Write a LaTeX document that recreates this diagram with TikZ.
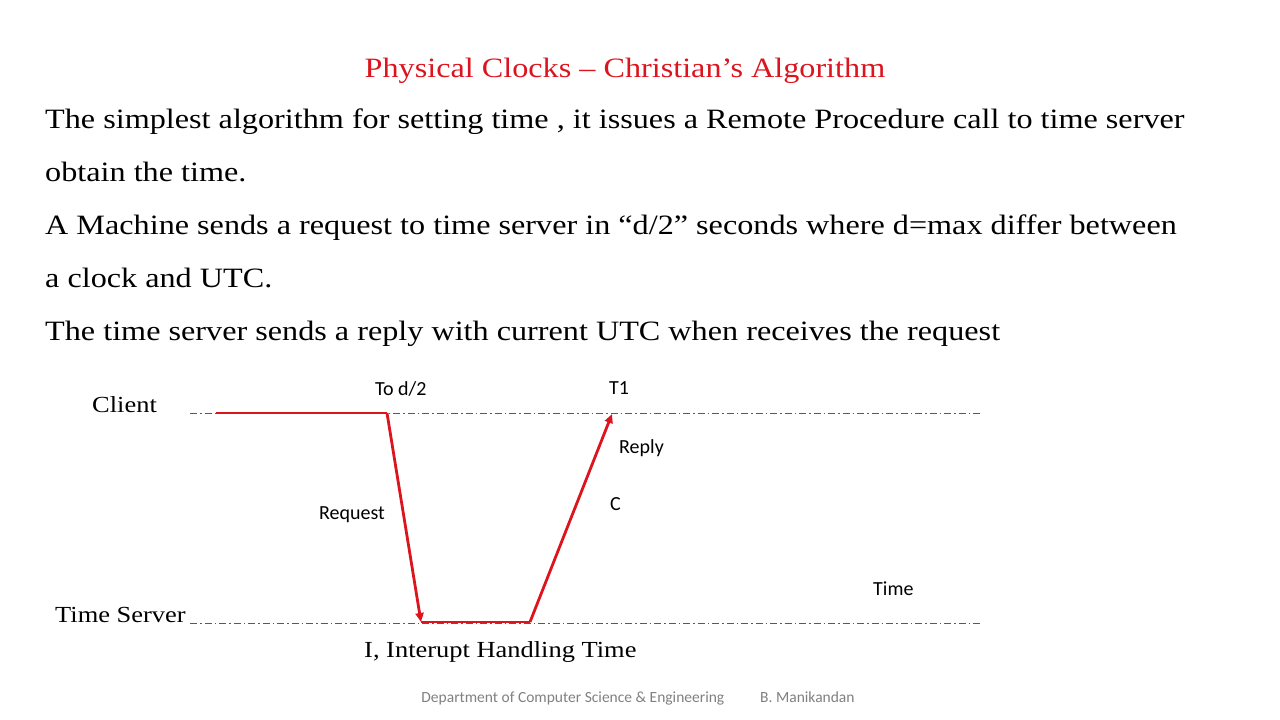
\documentclass[tikz,border=0pt]{standalone}
\usepackage{fontspec}
\setmainfont{Liberation Serif}
\newfontfamily\labelfont{Carlito}
\usetikzlibrary{arrows.meta}
\definecolor{slidered}{RGB}{220,20,30}
\newcommand{\widetext}[1]{\scalebox{1.15}[1]{#1}}
\begin{document}
\begin{tikzpicture}[x=1pt,y=-1pt,
  bodytext/.style={anchor=base west,inner sep=0pt,font=\fontsize{28}{30}\selectfont},
  sidetext/.style={anchor=base west,inner sep=0pt,font=\fontsize{23}{26}\selectfont},
  tag/.style={anchor=base west,inner sep=0pt,font=\labelfont\fontsize{20}{24}\selectfont},
  timeline/.style={gray!70!black,line width=0.7pt,dash pattern=on 7pt off 3pt on 1.5pt off 3pt},
  msg/.style={slidered,line width=2.8pt}]
  \useasboundingbox (0,0) rectangle (1280,720);
  \node[anchor=base,inner sep=0pt,text=slidered,font=\fontsize{28}{30}\selectfont] (title) at (625,77) {\widetext{Physical Clocks -- Christian's Algorithm}};
  \node[bodytext] (l1) at (45,128) {\widetext{The simplest algorithm for setting time , it issues a Remote Procedure call to time server}};
  \node[bodytext] (l2) at (45,181) {\widetext{obtain the time.}};
  \node[bodytext] (l3) at (45,234) {\widetext{A Machine sends a request to time server in ``d/2'' seconds where d=max differ between}};
  \node[bodytext] (l4) at (45,287) {\widetext{a clock and UTC.}};
  \node[bodytext] (l5) at (45,340) {\widetext{The time server sends a reply with current UTC when receives the request}};
  % time lines
  \coordinate (cs) at (190,413); \coordinate (ce) at (983,413);
  \coordinate (ss) at (190,623); \coordinate (se) at (983,623);
  \draw[timeline] (cs) -- (ce);
  \draw[timeline] (ss) -- (se);
  \node[sidetext] (client) at (92,412) {\widetext{Client}};
  \node[sidetext] (server) at (55,622) {\widetext{Time Server}};
  \node[sidetext] (handle) at (364,657) {\widetext{I, Interupt Handling Time}};
  % messages
  \coordinate (c0) at (216,413);
  \coordinate (t0) at (387,413);
  \coordinate (s0) at (421,622);
  \coordinate (s1) at (530,622);
  \coordinate (t1) at (612,414);
  \draw[msg] (c0) -- (t0);
  \draw[msg,-{Triangle[length=9pt,width=8pt]}] (t0) -- (s0);
  \draw[msg] (s0) -- (s1);
  \draw[msg,-{Triangle[length=9pt,width=8pt]}] (s1) -- (t1);
  \node[tag] (to) at (375,395) {To d/2};
  \node[tag] (tone) at (609,394) {T1};
  \node[tag] (reply) at (619,453) {Reply};
  \node[tag] (cee) at (610,510) {C};
  \node[tag] (req) at (319,519) {Request};
  \node[tag] (time) at (873,595) {Time};
  \node[anchor=base,inner sep=0pt,text=gray,font=\labelfont\fontsize{15.5}{17}\selectfont] (foot) at (638,702) {Department of Computer Science \& Engineering\hspace{36pt}B. Manikandan};
\end{tikzpicture}
\end{document}
